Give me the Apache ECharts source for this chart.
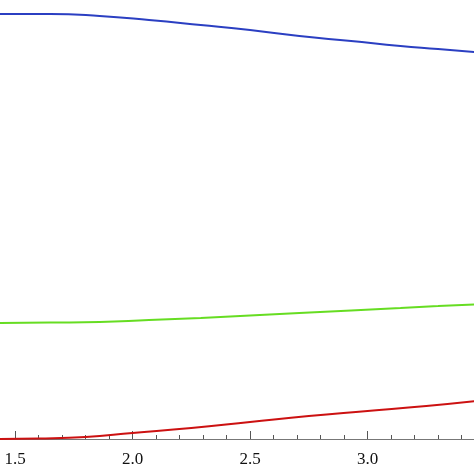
<!DOCTYPE html><html><head><meta charset="utf-8"><script src="https://cdn.jsdelivr.net/npm/echarts@6/dist/echarts.min.js"></script></head><body style="margin:0"><div id="c" style="width:474px;height:474px"></div><script>
const blue=[[1.40,425],[1.65,425],[1.86,423],[2.07,419],[2.29,414],[2.5,409],[2.71,403],[2.93,398],[3.14,393],[3.3,390],[3.5,386]];
const green=[[1.40,116],[1.65,116.5],[1.86,117],[2.07,119],[2.29,121],[2.5,123.5],[2.71,126],[2.93,128.5],[3.14,131],[3.3,133],[3.5,135]];
const red=[[1.40,0],[1.6,0.5],[1.8,2],[2.0,6],[2.25,11],[2.5,17],[2.75,23],[3.0,28],[3.25,33],[3.5,39]];
const majorTicks=[1.5,2.0,2.5,3.0];
const minorTicks=[1.5,1.6,1.7,1.8,1.9,2.0,2.1,2.2,2.3,2.4,2.5,2.6,2.7,2.8,2.9,3.0,3.1,3.2,3.3,3.4];
const c=echarts.init(document.getElementById('c'));
const s=(d,col)=>({type:'line',data:d,smooth:true,showSymbol:false,lineStyle:{color:col,width:2},clip:true});
const xa={type:'value',min:1.436,max:3.453,splitLine:{show:false}};
c.setOption({animation:false,grid:{left:0,right:0,top:0,bottom:35,outerBoundsMode:'none'},
xAxis:[Object.assign({},xa,{axisLine:{lineStyle:{color:'#777'}},axisTick:{inside:true,length:8,customValues:majorTicks,lineStyle:{color:'#555'}},axisLabel:{customValues:majorTicks,formatter:v=>v.toFixed(1),color:'#111',fontFamily:'Liberation Serif',fontSize:17,margin:12}}),
Object.assign({},xa,{position:'bottom',axisLine:{show:false},axisTick:{inside:true,length:4,customValues:minorTicks,lineStyle:{color:'#555'}},axisLabel:{show:false}})],
yAxis:{type:'value',min:0,max:439,show:false,splitLine:{show:false}},
series:[s(blue,'#2b3fc2'),s(green,'#66dd22'),s(red,'#cc1111')]});
</script></body></html>
